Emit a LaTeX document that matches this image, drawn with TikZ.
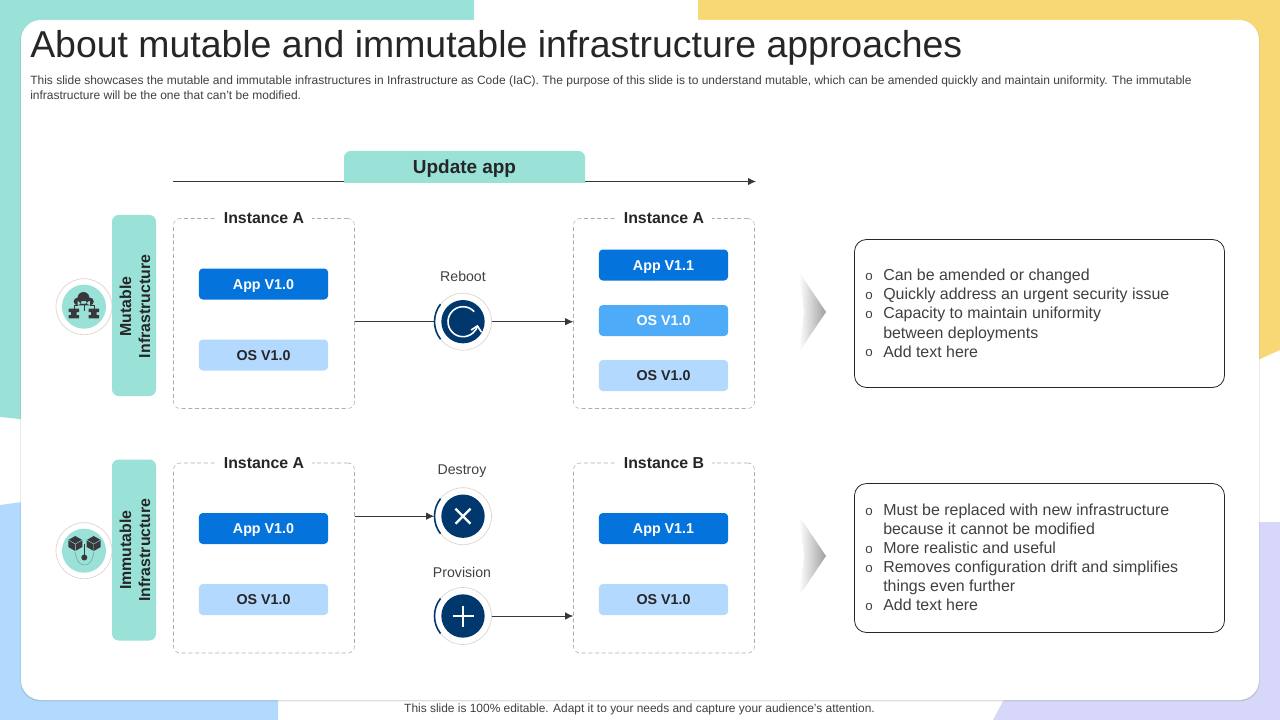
\documentclass[tikz,border=0pt]{standalone}
\usepackage{fontspec}
\setmainfont{Liberation Sans}
\usetikzlibrary{arrows.meta,positioning,fadings,shadows}
\definecolor{bgteal}{RGB}{154,225,216}
\definecolor{bgyellow}{RGB}{247,216,117}
\definecolor{bgblue}{RGB}{178,218,255}
\definecolor{bglilac}{RGB}{215,215,250}
\definecolor{appblue}{RGB}{5,115,220}
\definecolor{midblue}{RGB}{77,171,247}
\definecolor{osblue}{RGB}{179,217,255}
\definecolor{navyblue}{RGB}{0,56,110}
\definecolor{inkgrey}{RGB}{38,38,38}
\definecolor{textgrey}{RGB}{64,64,64}
\definecolor{iconink}{RGB}{56,56,60}
\definecolor{ringtan}{RGB}{222,212,204}
\tikzset{
  sidebox/.style={fill=bgteal, rounded corners=5pt, minimum width=33pt, minimum height=135.75pt, inner sep=0pt},
  sidetext/.style={rotate=90, align=center, font=\bfseries\fontsize{11.9}{14.3}\selectfont, text=inkgrey},
  instbox/.style={draw=black!32, dash pattern=on 3pt off 2pt, line width=0.4pt, rounded corners=5pt, minimum width=135.75pt, minimum height=142.5pt, inner sep=0pt},
  insttitle/.style={fill=white, font=\bfseries\fontsize{11.9}{14}\selectfont, text=inkgrey, inner xsep=6pt, inner ysep=1pt},
  appbox/.style={fill=appblue, text=white, rounded corners=3pt, minimum width=97pt, minimum height=23.25pt, inner sep=0pt, text height=7.5pt, text depth=0pt, font=\bfseries\fontsize{10.7}{12}\selectfont},
  app2box/.style={appbox, fill=midblue},
  osbox/.style={appbox, fill=osblue, text=inkgrey},
  steplabel/.style={font=\fontsize{10.6}{12}\selectfont, text=textgrey},
  stepdisc/.style={circle, fill=navyblue, minimum size=32.5pt, inner sep=0pt},
  stepring/.style={circle, draw=ringtan, line width=0.5pt, minimum size=42.75pt, inner sep=0pt},
  iconring/.style={circle, draw=ringtan, line width=0.5pt, minimum size=42pt, inner sep=0pt},
  icondisc/.style={circle, fill=bgteal, minimum size=33pt, inner sep=0pt},
  notebox/.style={draw=inkgrey, line width=0.6pt, rounded corners=9pt, minimum width=277.5pt, inner sep=0pt},
  notetext/.style={align=left, inner sep=0pt, font=\fontsize{11.95}{14.3}\selectfont, text=textgrey},
  arrow/.style={-{Latex[length=6pt,width=5.5pt]}, draw=iconink, line width=0.6pt},
  plainline/.style={draw=iconink, line width=0.6pt},
}
\newcommand{\notebullet}{\makebox[13.5pt][l]{\fontsize{10}{10}\selectfont\raisebox{0.2pt}{o}}}
\begin{document}
\begin{tikzpicture}[x=0.75pt,y=-0.75pt]
\useasboundingbox (0,0) rectangle (1280,720);

% Backdrop
\fill[white] (0,0) rectangle (1280,720);
\fill[bgteal] (0,0) -- (474,0) -- (474,30) -- (30,30) -- (30,420) -- (0,417) -- cycle;
\fill[bgyellow] (698,0) -- (1280,0) -- (1280,350) -- (1240,368) -- (1240,30) -- (698,30) -- cycle;
\fill[bgblue] (0,505) -- (30,501) -- (30,690) -- (278,690) -- (278,720) -- (0,720) -- cycle;
\fill[bglilac] (1280,522) -- (1240,522) -- (1240,690) -- (1009,690) -- (993,720) -- (1280,720) -- cycle;
\node[fill=white, rounded corners=15pt, minimum width=928.5pt, minimum height=510pt, inner sep=0pt, drop shadow={shadow xshift=0pt, shadow yshift=-0.7pt, shadow scale=1.001, opacity=0.28}] (sheet) at (640,360) {};

% Heading
\node[anchor=base west, inner sep=0pt, font=\fontsize{28.07}{30}\selectfont, text=inkgrey] (heading) at (30,58) {About mutable and immutable infrastructure approaches};
\node[anchor=north west, inner sep=0pt, align=left, font=\fontsize{9}{10.6}\selectfont, text=textgrey] (intro) at (30,76) {This slide showcases the mutable and immutable infrastructures in Infrastructure as Code (IaC). The purpose of this slide is to understand mutable, which can be amended quickly and maintain uniformity. The immutable\\infrastructure will be the one that can't be modified.};
\node[inner sep=0pt, font=\fontsize{8.95}{10.6}\selectfont, text=textgrey] (footer) at (639.5,709.5) {This slide is 100\% editable. Adapt it to your needs and capture your audience's attention.};

% Update app
\coordinate (timestart) at (173,181.5);
\coordinate (timeend) at (756,181.5);
\draw[arrow] (timestart) -- (timeend);
\fill[bgteal] (344,183) [rounded corners=5pt] -- (344,151) -- (585,151) [sharp corners] -- (585,183) -- cycle;
\node[inner sep=0pt, font=\bfseries\fontsize{14.2}{16}\selectfont, text=inkgrey] (update) at (464.5,168.5) {Update app};

% Mutable row
\node[sidebox] (mutside) at (134,305.5) {};
\node[sidetext] (muttext) at (135,306.5) {Mutable\\Infrastructure};
\node[instbox] (mutleft) at (264,313.5) {};
\node[insttitle] (mutlefttitle) at (mutleft.north) {Instance A};
\node[appbox] (mutapp) at (263.5,284) {App V1.0};
\node[osbox] (mutos) at (263.5,355) {OS V1.0};
\node[instbox] (mutright) at (664,313.5) {};
\node[insttitle] (mutrighttitle) at (mutright.north) {Instance A};
\node[appbox] (newapp) at (663.5,265) {App V1.1};
\node[app2box] (midos) at (663.5,320.5) {OS V1.0};
\node[osbox] (newos) at (663.5,375.5) {OS V1.0};
\node[stepring] (rebootring) at (463,321.7) {};
\node[stepdisc] (rebootdisc) at (463,321.7) {};
\draw[navyblue, line width=1.2pt] (463,321.7) ++(142:28.5) arc (142:218:28.5);
\draw[white, line width=1.2pt, -{Straight Barb[length=4pt,width=8pt]}] (463,321.7) ++(-42:15) arc (-42:-348:15);
\node[steplabel] (reboot) at (463,276.5) {Reboot};
\draw[plainline] (mutleft.east |- rebootdisc) -- (rebootring.west);
\draw[arrow] (rebootring.east) -- (mutright.west |- rebootring);

% Immutable row
\node[sidebox] (immside) at (134,550) {};
\node[sidetext] (immtext) at (135,550) {Immutable\\Infrastructure};
\node[instbox] (immleft) at (264,558) {};
\node[insttitle] (immlefttitle) at (immleft.north) {Instance A};
\node[appbox] (immapp) at (263.5,528.5) {App V1.0};
\node[osbox] (immos) at (263.5,599.5) {OS V1.0};
\node[instbox] (immright) at (664,558) {};
\node[insttitle] (immrighttitle) at (immright.north) {Instance B};
\node[appbox] (bapp) at (663.5,528.5) {App V1.1};
\node[osbox] (bos) at (663.5,599.5) {OS V1.0};
\node[stepring] (destroyring) at (463,516.2) {};
\node[stepdisc] (destroydisc) at (463,516.2) {};
\draw[navyblue, line width=1.2pt] (463,516.2) ++(142:28.5) arc (142:218:28.5);
\draw[white, line width=1.7pt] (455.5,508.7) -- (470.5,523.7) (470.5,508.7) -- (455.5,523.7);
\node[steplabel] (destroy) at (462,471.5) {Destroy};
\draw[arrow] (immleft.east |- destroydisc) -- (destroyring.west);
\node[stepring] (provring) at (463,616) {};
\node[stepdisc] (provdisc) at (463,616) {};
\draw[navyblue, line width=1.2pt] (463,616) ++(142:28.5) arc (142:218:28.5);
\draw[white, line width=1.7pt] (452.5,616) -- (473.5,616) (463,605.5) -- (463,626.5);
\node[steplabel] (provision) at (462,572.5) {Provision};
\draw[arrow] (provring.east) -- (immright.west |- provring);

% Left icons
\node[iconring] (mutring) at (84,306.7) {};
\node[icondisc] (mutdisc) at (84,306.7) {};
\fill[iconink] (83.5,298) circle (6) (77.5,301.5) circle (3.8) (90,301.5) circle (3.8) (77.5,301) rectangle (90,305.3);
\draw[iconink, line width=0.45pt] (78,305) -- (74,305) -- (74,308.5) (90,305) -- (94,305) -- (94,308.5) (84,305) -- (84,311);
\fill[iconink] (68.5,308.5) rectangle (79,312) (71,312) rectangle (76.5,315) (68.5,315) rectangle (79,318.3);
\fill[iconink] (88.5,308.5) rectangle (99,312) (91,312) rectangle (96.5,315) (88.5,315) rectangle (99,318.3);
\node[iconring] (immring) at (84,550.7) {};
\node[icondisc] (immdisc) at (84,550.7) {};
\fill[iconink] (75.3,536) -- (82.3,540) -- (82.3,547) -- (75.3,551) -- (68.3,547) -- (68.3,540) -- cycle;
\fill[iconink] (93.7,536) -- (100.7,540) -- (100.7,547) -- (93.7,551) -- (86.7,547) -- (86.7,540) -- cycle;
\draw[bgteal, line width=0.3pt] (68.3,540) -- (75.3,544) -- (82.3,540) (75.3,544) -- (75.3,551) (86.7,540) -- (93.7,544) -- (100.7,540) (93.7,544) -- (93.7,551);
\draw[black!30!bgteal, line width=0.35pt] (75,552) .. controls (77,562) and (80,565) .. (84.5,565) .. controls (89,565) and (92,562) .. (94,552);
\draw[iconink, line width=0.8pt] (84.3,544) -- (84.3,556);
\fill[iconink] (84.3,557.5) circle (3);

% Chevrons
\fill[black!38, path fading=west] (799,272) -- (826,312) -- (799,352) -- (804,312) -- cycle;
\fill[black!38, path fading=west] (799,516) -- (826,556) -- (799,596) -- (804,556) -- cycle;

% Notes
\node[notebox, minimum height=111pt] (topnote) at (1039.5,313.5) {};
\node[notetext, anchor=west] (toptext) at (865,313.3) {\notebullet Can be amended or changed\\\notebullet Quickly address an urgent security issue\\\notebullet Capacity to maintain uniformity\\\hspace*{13.5pt}between deployments\\\notebullet Add text here};
\node[notebox, minimum height=111.75pt] (botnote) at (1039.5,558) {};
\node[notetext, anchor=west] (bottext) at (865,557.5) {\notebullet Must be replaced with new infrastructure\\\hspace*{13.5pt}because it cannot be modified\\\notebullet More realistic and useful\\\notebullet Removes configuration drift and simplifies\\\hspace*{13.5pt}things even further\\\notebullet Add text here};

\end{tikzpicture}
\end{document}
